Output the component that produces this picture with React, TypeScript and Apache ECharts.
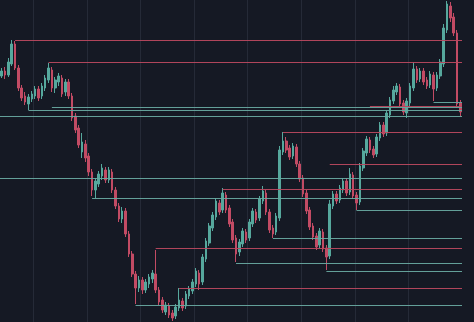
import React, { useEffect, useRef } from "react";
import * as echarts from "echarts";

// OHLC candles: [open, close, low, high]
const candles: number[][] = [
  [246, 251, 244, 254], [251, 247, 243, 255], [247, 260, 245, 264], [258, 278, 256, 282],
  [278, 254, 252, 281], [254, 234, 231, 257], [234, 224, 221, 237], [226, 220, 217, 230],
  [218, 225, 212, 228], [223, 228, 220, 231], [226, 233, 223, 236], [233, 224, 221, 236],
  [226, 236, 223, 239], [234, 244, 231, 247], [242, 254, 239, 259], [252, 234, 230, 255],
  [234, 242, 229, 245], [240, 246, 236, 249], [244, 228, 225, 247], [230, 240, 226, 243],
  [240, 226, 223, 243], [226, 204, 201, 229], [206, 192, 189, 209], [194, 177, 174, 197],
  [170, 180, 164, 189], [178, 164, 160, 182], [166, 150, 146, 169], [150, 132, 126, 153],
  [132, 141, 124, 144], [138, 148, 135, 151], [146, 154, 142, 158], [152, 142, 139, 155],
  [142, 152, 139, 155], [150, 132, 129, 153], [132, 116, 113, 135], [116, 103, 100, 119],
  [103, 111, 99, 115], [111, 88, 85, 114], [88, 68, 65, 91], [68, 48, 45, 71],
  [48, 34, 18, 51], [34, 42, 30, 46], [42, 32, 28, 45], [32, 40, 29, 43],
  [38, 45, 34, 48], [43, 49, 39, 52], [48, 32, 29, 72], [32, 20, 17, 35],
  [22, 12, 9, 25], [10, 17, 7, 20], [16, 7, 4, 19], [9, 4, 1, 12],
  [6, 15, 3, 18], [14, 22, 11, 34], [21, 14, 11, 24], [16, 28, 13, 31],
  [26, 33, 23, 36], [31, 40, 28, 43], [38, 51, 35, 54], [49, 38, 32, 52],
  [40, 65, 37, 68], [63, 81, 60, 84], [79, 96, 76, 99], [94, 107, 91, 110],
  [105, 121, 102, 124], [119, 110, 107, 122], [112, 129, 109, 134], [127, 112, 109, 130],
  [114, 98, 95, 117], [100, 82, 79, 103], [84, 68, 60, 87], [70, 80, 66, 83],
  [78, 91, 75, 94], [90, 82, 79, 93], [84, 100, 81, 103], [98, 111, 95, 114],
  [110, 102, 99, 113], [104, 123, 101, 126], [121, 131, 118, 136], [129, 110, 107, 132],
  [110, 92, 89, 113], [94, 88, 84, 97], [90, 106, 87, 109], [104, 172, 101, 176],
  [170, 181, 167, 190], [181, 172, 169, 185], [174, 165, 162, 177], [166, 176, 163, 179],
  [175, 158, 155, 178], [158, 143, 140, 161], [144, 128, 125, 147], [129, 111, 108, 132],
  [112, 95, 92, 115], [96, 85, 82, 99], [86, 75, 72, 89], [77, 91, 74, 94],
  [90, 73, 70, 93], [74, 65, 52, 77], [66, 118, 63, 122], [116, 128, 113, 131],
  [128, 121, 118, 131], [122, 134, 119, 137], [132, 141, 129, 144], [141, 129, 126, 144],
  [130, 148, 127, 154], [147, 126, 123, 150], [127, 119, 112, 130], [120, 156, 117, 159],
  [154, 171, 151, 174], [169, 183, 166, 186], [182, 172, 169, 185], [173, 167, 164, 176],
  [168, 185, 165, 188], [184, 197, 181, 200], [197, 188, 185, 200], [189, 209, 186, 212],
  [207, 222, 204, 225], [221, 232, 218, 236], [230, 236, 227, 239], [235, 218, 215, 238],
  [219, 210, 207, 222], [209, 221, 204, 224], [219, 236, 216, 239], [234, 253, 231, 260],
  [253, 242, 239, 256], [243, 251, 240, 254], [251, 240, 237, 254], [242, 236, 233, 245],
  [237, 248, 234, 251], [247, 233, 221, 250], [234, 247, 231, 250], [246, 260, 243, 263],
  [258, 294, 255, 298], [292, 318, 289, 321], [316, 304, 300, 320], [305, 289, 286, 309],
  [289, 218, 214, 292], [219, 210, 205, 222],
];

// Resistance levels (red): [start candle index, price]
const resistanceLevels: number[][] = [
  [4, 282], [14, 260], [110, 216], [84, 190], [98, 158], [66, 133], [46, 74], [53, 34],
];

// Support levels (teal): [start candle index, price]
const supportLevels: number[][] = [
  [129, 220], [15, 215], [8, 212], [-0.5, 206], [-0.5, 144], [27, 124],
  [106, 112], [81, 84], [70, 59], [97, 51], [40, 17],
];

// Vertical time-grid positions (candle index units)
const timeGrid: number[] = [9.5, 25.5, 41.5, 57.5, 73.5, 89.5, 105.5, 121.5];

const PRICE_MIN = 0;
const PRICE_MAX = 322;

const BG = "#151924";
const UP = "#56a89d";
const DOWN = "#c24b64";
const RES_LINE = "#b8485f";
const SUP_LINE = "#67a8a0";
const GRID_LINE = "#252a37";

export default function App() {
  const ref = useRef<HTMLDivElement>(null);

  useEffect(() => {
    if (!ref.current) return;
    const chart = echarts.init(ref.current, null, { renderer: "svg" });
    const n = candles.length;
    const xEnd = n - 0.5;
    const cats = candles.map((_, i) => String(i));

    chart.setOption({
      animation: false,
      backgroundColor: BG,
      grid: { left: 0, right: 12, top: 0, bottom: 0 },
      xAxis: [
        { type: "category", data: cats, boundaryGap: true, show: false },
        { type: "value", min: -0.5, max: xEnd, show: false },
      ],
      yAxis: {
        type: "value",
        min: PRICE_MIN,
        max: PRICE_MAX,
        show: false,
        splitLine: { show: false },
      },
      series: [
        {
          type: "lines",
          coordinateSystem: "cartesian2d",
          xAxisIndex: 1,
          silent: true,
          z: 1,
          lineStyle: { color: GRID_LINE, width: 1, opacity: 1 },
          data: timeGrid.map((v) => ({ coords: [[v, PRICE_MIN], [v, PRICE_MAX]] })),
        },
        {
          type: "candlestick",
          xAxisIndex: 0,
          data: candles,
          barWidth: "62%",
          z: 3,
          itemStyle: {
            color: UP,
            color0: DOWN,
            borderColor: UP,
            borderColor0: DOWN,
            borderWidth: 1,
          },
        },
        {
          type: "lines",
          coordinateSystem: "cartesian2d",
          xAxisIndex: 1,
          silent: true,
          z: 4,
          lineStyle: { color: RES_LINE, width: 1, opacity: 0.95 },
          data: resistanceLevels.map(([s, p]) => ({ coords: [[s, p], [xEnd, p]] })),
        },
        {
          type: "lines",
          coordinateSystem: "cartesian2d",
          xAxisIndex: 1,
          silent: true,
          z: 4,
          lineStyle: { color: SUP_LINE, width: 1, opacity: 0.95 },
          data: supportLevels.map(([s, p]) => ({ coords: [[s, p], [xEnd, p]] })),
        },
      ],
    });

    return () => chart.dispose();
  }, []);

  return (
    <div
      ref={ref}
      style={{ position: "fixed", left: 0, top: 0, width: 474, height: 322, background: BG }}
    />
  );
}
